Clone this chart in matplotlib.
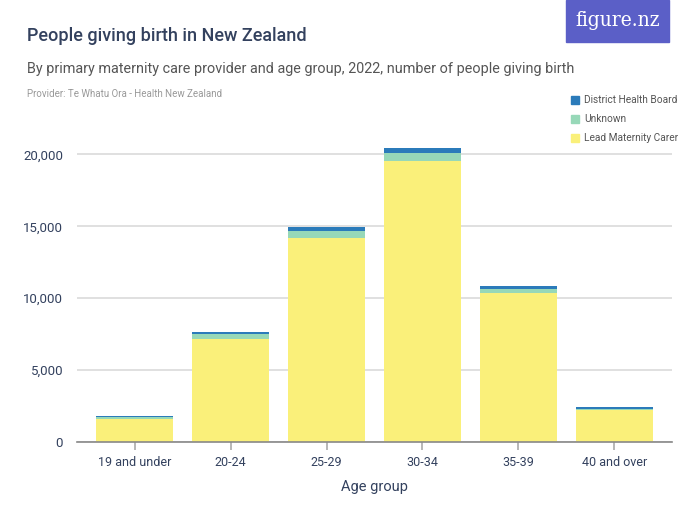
import matplotlib.pyplot as plt
from matplotlib import font_manager
from matplotlib.patches import Rectangle
from matplotlib.ticker import FuncFormatter

# values (number of people giving birth)
age_groups = ['19 and under', '20-24', '25-29', '30-34', '35-39', '40 and over']
lead_maternity = [1600, 7150, 14220, 19510, 10370, 2250]
unknown = [140, 370, 460, 580, 300, 70]
district_board = [70, 140, 250, 370, 160, 90]

YELLOW = '#faf07a'
GREEN = '#97d8b8'
BLUE = '#2b7bba'
NAVY = '#33415e'

installed = {f.name for f in font_manager.fontManager.ttflist}
narrow = next((n for n in ['Liberation Sans Narrow', 'DejaVu Sans Condensed', 'Roboto']
               if n in installed), 'DejaVu Sans')
plt.rcParams['font.family'] = [narrow, 'DejaVu Sans']

fig = plt.figure(figsize=(7, 5.25), dpi=100)
ax = fig.add_axes([77 / 700, 1 - 442 / 525, 595 / 700, 302 / 525])

x = range(len(age_groups))
bottom2 = [a + b for a, b in zip(lead_maternity, unknown)]
ax.bar(x, lead_maternity, width=0.8, color=YELLOW, zorder=2)
ax.bar(x, unknown, bottom=lead_maternity, width=0.8, color=GREEN, zorder=2)
ax.bar(x, district_board, bottom=bottom2, width=0.8, color=BLUE, zorder=2)

ax.set_xlim(-0.6, len(age_groups) - 0.4)
ax.set_ylim(0, 21000)
ax.set_yticks([0, 5000, 10000, 15000, 20000])
ax.yaxis.set_major_formatter(FuncFormatter(lambda v, p: f'{int(v):,}'))
ax.set_xticks(list(x))
ax.set_xticklabels(age_groups)
ax.grid(axis='y', color='#dddddd', linewidth=1.3, zorder=0)
for s in ['top', 'right', 'left']:
    ax.spines[s].set_visible(False)
ax.spines['bottom'].set_color('#888888')
ax.spines['bottom'].set_linewidth(1.2)
ax.spines['bottom'].set_zorder(3)
ax.tick_params(axis='y', length=0, labelsize=9.5, labelcolor=NAVY, pad=10)
ax.tick_params(axis='x', length=6, width=1.2, color='#aaaaaa', labelsize=9,
               labelcolor=NAVY, pad=4)
ax.set_xlabel('Age group', fontsize=10.5, color=NAVY, labelpad=8)

fig.text(27 / 700, 1 - 36 / 525, 'People giving birth in New Zealand', fontsize=13,
         color=NAVY, va='center', ha='left', fontweight='medium')
fig.text(27 / 700, 1 - 69 / 525,
         'By primary maternity care provider and age group, 2022, number of people giving birth',
         fontsize=10.4, color='#555555', va='center', ha='left')
fig.text(27 / 700, 1 - 94 / 525, 'Provider: Te Whatu Ora - Health New Zealand',
         fontsize=7, color='#999999', va='center', ha='left')

# logo
fig.patches.append(Rectangle((566 / 700, 1 - 42 / 525), 103 / 700, 42 / 525,
                             transform=fig.transFigure, color='#5b5fc7', zorder=5))
fig.text(618 / 700, 1 - 20 / 525, 'figure.nz', fontsize=15, color='white',
         family='DejaVu Serif', ha='center', va='center', zorder=6,
         fontstretch='condensed')

# legend
legend_items = [('District Health Board', BLUE), ('Unknown', GREEN),
                ('Lead Maternity Carer', YELLOW)]
for i, (label, col) in enumerate(legend_items):
    yy = 100 + i * 19
    fig.patches.append(Rectangle((571 / 700, 1 - (yy + 4) / 525), 8 / 700, 8 / 525,
                                 transform=fig.transFigure, color=col))
    fig.text(584 / 700, 1 - yy / 525, label, fontsize=7.3, color='#555555',
             va='center', ha='left')

fig.savefig('out.png', dpi=100)
